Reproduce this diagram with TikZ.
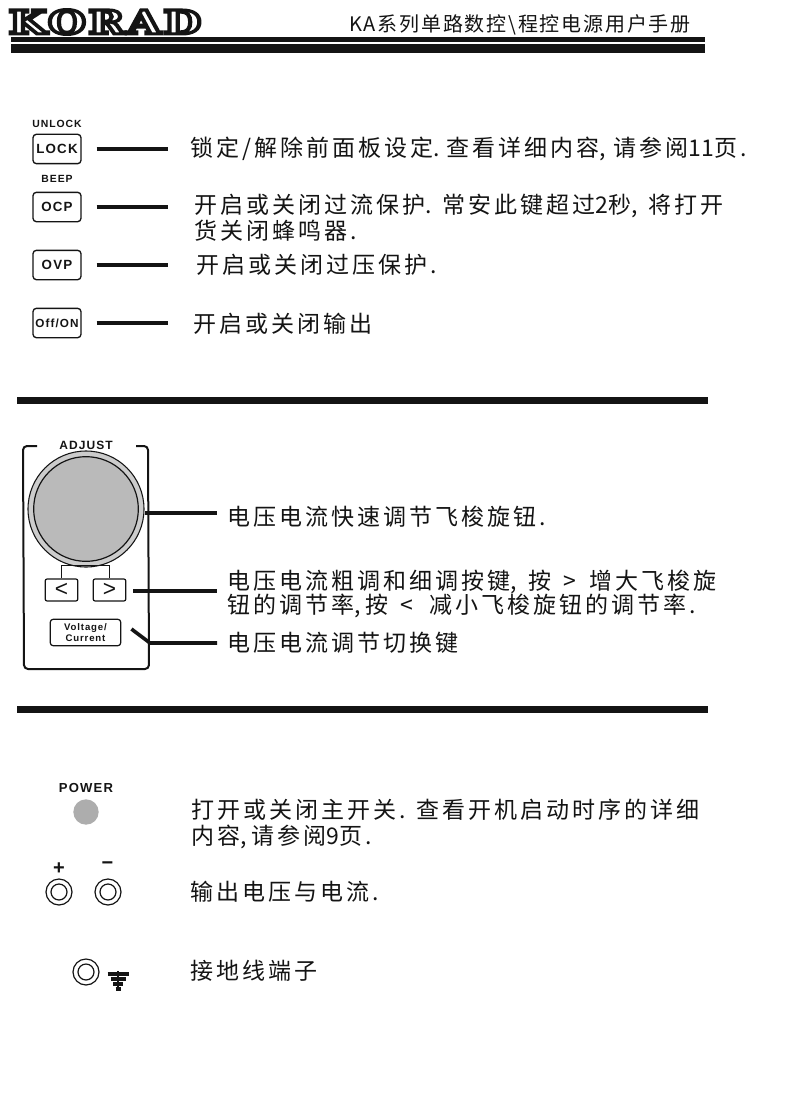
\documentclass[tikz,border=0pt]{standalone}
\usepackage{fontspec}
\setmainfont{Liberation Sans}
\newfontfamily\cjkbody[LetterSpace=13]{Noto Sans CJK SC}
\newfontfamily\cjkplain{Noto Sans CJK SC}
\newfontfamily\cjktitle[LetterSpace=9]{Noto Sans CJK SC}
\newfontfamily\keyfont[LetterSpace=9]{Liberation Sans}
\newfontfamily\logofont[LetterSpace=6]{DejaVu Serif}
\newcommand{\pl}[1]{{\cjkplain #1}}
\definecolor{ink}{HTML}{141414}
\tikzset{
  bodytext/.style={anchor=west,align=left,inner sep=0pt,text=ink,font=\cjkbody\fontsize{17.25}{19.5}\selectfont},
  keybox/.style={draw=ink,line width=1pt,rounded corners=2.5pt,minimum width=36pt,minimum height=22pt,inner sep=0pt,font=\keyfont\bfseries\fontsize{10}{10}\selectfont,text=ink},
  panelkey/.style={draw=ink,line width=.9pt,rounded corners=1.5pt,inner sep=0pt,text=ink},
  keylabel/.style={inner sep=0pt,text=ink,font=\keyfont\bfseries\fontsize{7.8}{8}\selectfont},
  lead/.style={draw=ink,line width=3pt},
  thinlead/.style={draw=ink,line width=2.7pt},
  rulebar/.style={fill=ink,draw=none},
  jack/.style={circle,draw=ink,line width=.9pt,minimum size=19.5pt,inner sep=0pt},
  jackin/.style={circle,draw=ink,line width=.9pt,minimum size=12pt,inner sep=0pt},
}
\begin{document}
\begin{tikzpicture}[x=.75pt,y=-.75pt]
\useasboundingbox (0,0) rectangle (790,1120);
\fill[white] (0,0) rectangle (790,1120);
% header
\node[inner sep=0pt,text=ink,font=\logofont\bfseries\fontsize{24.5}{26}\selectfont,xscale=1.33] (logo) at (105,22) {\special{pdf:code q 1 1 1 rg 0.08 0.08 0.08 RG 2.4 w 2 Tr}KORAD\special{pdf:code Q}};
\node[anchor=west,inner sep=0pt,text=ink,font=\cjktitle\fontsize{15}{16}\selectfont] (title) at (349,25) {KA系列单路数控\textbackslash 程控电源用户手册};
\fill[rulebar] (11,37.5) rectangle (705,42);
\fill[rulebar] (11,44.5) rectangle (705,53);
% keys
\node[keylabel] (unlock) at (57,124) {UNLOCK};
\node[keylabel] (beep) at (57,179) {BEEP};
\node[keybox] (lock) at (57,149) {LOCK};
\node[keybox] (ocp) at (57,207) {OCP};
\node[keybox] (ovp) at (57,265) {OVP};
\node[keybox,font=\keyfont\bfseries\fontsize{8.8}{9}\selectfont] (offon) at (57,323) {Off/ON};
\node[bodytext] (t1) at (190,149) {锁定/解除前面板设定\pl{. }查看详细内容\pl{, }\kern2pt{}请参阅\pl{11}页.};
\node[bodytext] (t2) at (194,218) {开启或关闭过流保护\pl{. }\kern3pt{}常安此键超过\pl{2}秒\pl{, }\kern4pt{}将打开\\货关闭蜂鸣器.};
\node[bodytext] (t3) at (196,265) {开启或关闭过压保护.};
\node[bodytext] (t4) at (193,324) {开启或关闭输出};
\foreach \k/\t in {lock/t1,ocp/t2,ovp/t3,offon/t4}
  \draw[lead] ([shift={(15,0)}]\k.east) -- (\k.east -| 168,0);
\fill[rulebar] (17,396.5) rectangle (708,403.5);
% adjust panel
\node[keylabel,font=\keyfont\bfseries\fontsize{9}{9}\selectfont] (adjust) at (86,445) {ADJUST};
\draw[ink,line width=1.5pt,rounded corners=3pt] (37,446) -- (23,446) -- (24,669) -- (149,669) -- (148,446) -- (136,446);
\node[circle,draw=ink,fill=black!20,line width=.8pt,minimum size=87pt,inner sep=0pt] (knob) at (86,509) {};
\node[circle,draw=ink,fill=black!27,line width=.9pt,minimum size=78.5pt,inner sep=0pt] (knobin) at (86,509) {};
\node[panelkey,minimum width=24.5pt,minimum height=16.5pt,font=\fontsize{17}{17}\selectfont] (less) at (61.5,590) {<};
\node[panelkey,minimum width=24.5pt,minimum height=16.5pt,font=\fontsize{17}{17}\selectfont] (more) at (109.5,590) {>};
\draw[ink,line width=1.2pt] (less.north) -- ++(0,-13) -| (more.north);
\node[panelkey,minimum width=53pt,minimum height=20pt,align=center,rounded corners=2.5pt,font=\keyfont\bfseries\fontsize{7.2}{8.6}\selectfont] (vc) at (85.5,632.5) {Voltage/\\Current};
\node[bodytext] (t5) at (227,517) {电压电流快速调节飞梭旋钮.};
\node[bodytext,font=\cjkbody\fontsize{17.25}{18}\selectfont] (t6) at (227,594) {电压电流粗调和细调按键\pl{, }\kern5pt{}按\kern3pt{} >\kern4pt{} 增大飞梭旋\\钮的调节率\pl{, }按\kern3pt{} <\kern6pt{} 减小飞梭旋钮的调节率.};
\node[bodytext] (t7) at (227,643) {电压电流调节切换键};
\draw[thinlead] (knob.east |- 0,513) -- (217,513);
\draw[thinlead] ([shift={(7,1)}]more.east) -- (217,591);
\draw[thinlead,line join=round] ([shift={(10,-3.5)}]vc.east) -- (150,643) -- (217,643);
\fill[rulebar] (17,705.5) rectangle (708,712.5);
% power and terminals
\node[keylabel,font=\keyfont\bfseries\fontsize{9.8}{10}\selectfont] (power) at (86,788) {POWER};
\node[circle,fill=black!32,minimum size=19pt,inner sep=0pt] (led) at (86,812) {};
\node[inner sep=0pt,text=ink,font=\bfseries\fontsize{15}{15}\selectfont] (plus) at (59,869) {+};
\node[inner sep=0pt,text=ink,font=\bfseries\fontsize{15}{15}\selectfont] (minus) at (107.5,866) {−};
\foreach \n/\x/\y in {jp/59/892,jm/108/892,jg/86/972}{
  \node[jack] (\n) at (\x,\y) {};
  \node[jackin] (\n i) at (\x,\y) {};
}
\coordinate (gnd) at (118,974);
\draw[ink,line width=1.6pt] ([shift={(0,-3)}]gnd) -- ([shift={(0,16)}]gnd);
\draw[ink,line width=2.6pt] ([shift={(-10.5,0)}]gnd) -- ([shift={(10.5,0)}]gnd);
\draw[ink,line width=2.6pt] ([shift={(-7.5,5)}]gnd) -- ([shift={(7.5,5)}]gnd);
\draw[ink,line width=2.6pt] ([shift={(-5,10)}]gnd) -- ([shift={(5,10)}]gnd);
\draw[ink,line width=2.6pt] ([shift={(-2.5,15)}]gnd) -- ([shift={(2.5,15)}]gnd);
\node[bodytext] (t8) at (191,824) {打开或关闭主开关. 查看开机启动时序的详细\\内容\pl{, }请参阅\pl{9}页.};
\node[bodytext] (t9) at (190,892) {输出电压与电流.};
\node[bodytext] (t10) at (190,971) {接地线端子};
\end{tikzpicture}
\end{document}
